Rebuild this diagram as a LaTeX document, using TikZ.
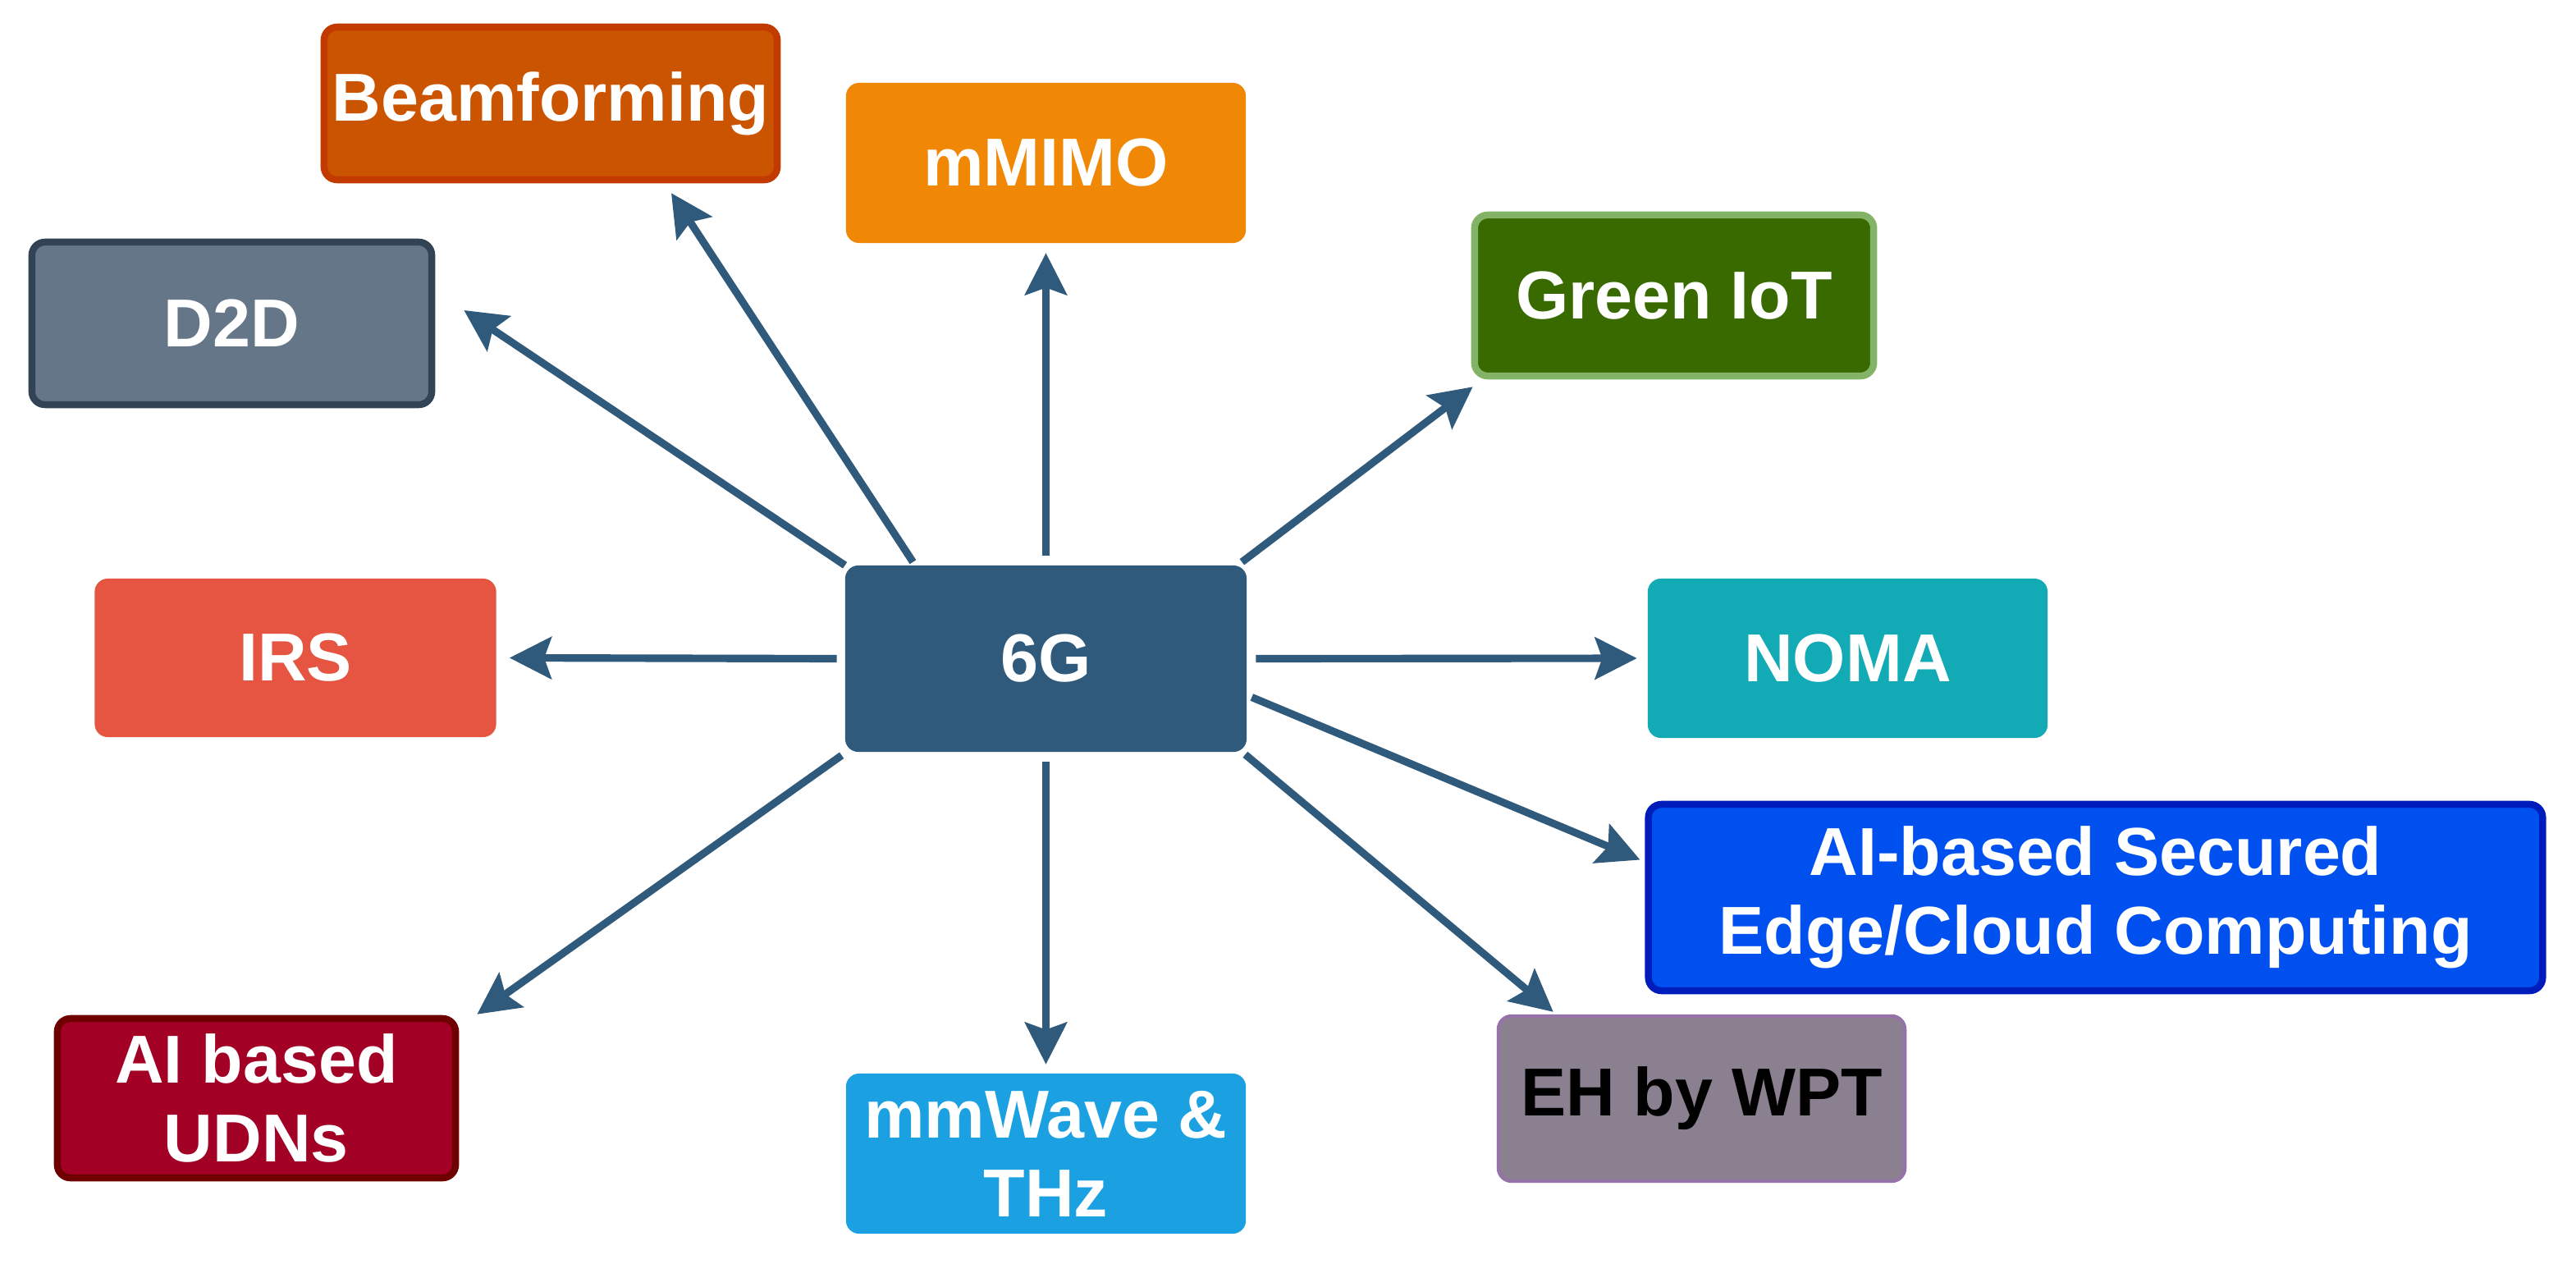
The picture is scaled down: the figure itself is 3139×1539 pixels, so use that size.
\documentclass[tikz,border=0pt]{standalone}
\usepackage{fontspec}
\setmainfont{Liberation Sans}
\usetikzlibrary{arrows.meta,calc}
\definecolor{beamF}{HTML}{CB5400}
\definecolor{beamS}{HTML}{C23A00}
\definecolor{d2dF}{HTML}{647687}
\definecolor{d2dS}{HTML}{314354}
\definecolor{mimoF}{HTML}{F08705}
\definecolor{greenF}{HTML}{386A00}
\definecolor{greenS}{HTML}{82B366}
\definecolor{irsF}{HTML}{E55541}
\definecolor{sixgF}{HTML}{2F5A7B}
\definecolor{nomaF}{HTML}{12AAB5}
\definecolor{aiF}{HTML}{0050EF}
\definecolor{aiS}{HTML}{001DBC}
\definecolor{udnF}{HTML}{A20025}
\definecolor{udnS}{HTML}{6F0000}
\definecolor{mmwF}{HTML}{1BA1E2}
\definecolor{ehF}{HTML}{8B8090}
\definecolor{ehS}{HTML}{9673A6}
\definecolor{arrowc}{HTML}{305A7C}
\begin{document}
\begin{tikzpicture}[x=0.01cm,y=-0.01cm,
  box/.style={rounded corners=0.16cm, inner sep=0pt, align=center, text=white,
    font=\fontsize{23.5}{27.3}\selectfont\bfseries, line width=2.4pt},
  arr/.style={draw=arrowc, line width=2.6pt,
    -{Stealth[length=14.5pt,width=14.5pt,inset=2.5pt]}}]
\useasboundingbox[fill=white] (0,0) rectangle (3139,1539);

\node[box, fill=beamF, draw=beamS, minimum width=5.52cm, minimum height=1.86cm] (beam) at (671,126) {Beamforming};
\node[box, fill=d2dF, draw=d2dS, minimum width=4.87cm, minimum height=1.98cm] (d2d) at (282.5,394) {D2D};
\node[box, fill=mimoF, minimum width=4.87cm, minimum height=1.95cm] (mimo) at (1274.5,198.5) {mMIMO};
\node[box, fill=greenF, draw=greenS, minimum width=4.86cm, minimum height=1.96cm] (green) at (2040,360) {Green IoT};
\node[box, fill=irsF, minimum width=4.89cm, minimum height=1.93cm] (irs) at (360,801.5) {IRS};
\node[box, fill=sixgF, minimum width=4.89cm, minimum height=2.27cm] (g6) at (1274.5,802.5) {6G};
\node[box, fill=nomaF, minimum width=4.87cm, minimum height=1.94cm] (noma) at (2251.5,802) {NOMA};
\node[box, fill=aiF, draw=aiS, minimum width=10.89cm, minimum height=2.27cm] (ai) at (2553.5,1093.5) {AI-based Secured\\Edge/Cloud Computing};
\node[box, fill=udnF, draw=udnS, minimum width=4.85cm, minimum height=1.94cm] (udn) at (312.5,1338) {AI based\\UDNs};
\node[box, fill=mmwF, minimum width=4.87cm, minimum height=1.95cm] (mmw) at (1274.5,1405.5) {mmWave \&\\THz};
\node[box, fill=ehF, draw=ehS, line width=1.2pt, text=black, minimum width=4.95cm, minimum height=2.01cm] (eh) at (2073.5,1338.5) {EH by WPT};

\draw[arr] ($(g6.north west)+(4,4)$) -- ($(d2d.east)+(35,-16)$);
\draw[arr] ($(g6.north)+(-162,0)$) -- ($(beam.south)+(147,12)$);
\draw[arr] ($(g6.north)+(0,-8)$) -- ($(mimo.south)+(0,8)$);
\draw[arr] ($(g6.north east)+(-10,0)$) -- ($(green.south west)+(2,9)$);
\draw[arr] ($(g6.west)+(-6,0)$) -- ($(irs.east)+(12,0)$);
\draw[arr] ($(g6.east)+(7,0)$) -- ($(noma.west)+(-9,0)$);
\draw[arr] ($(g6.east)+(2,47)$) -- ($(ai.west)+(-6,-46)$);
\draw[arr] ($(g6.south east)+(-6,-1)$) -- ($(eh.north west)+(69,-3)$);
\draw[arr] ($(g6.south)+(0,8)$) -- ($(mmw.north)+(0,-7)$);
\draw[arr] (g6.south west) -- ($(udn.north east)+(22,-1)$);
\end{tikzpicture}
\end{document}
